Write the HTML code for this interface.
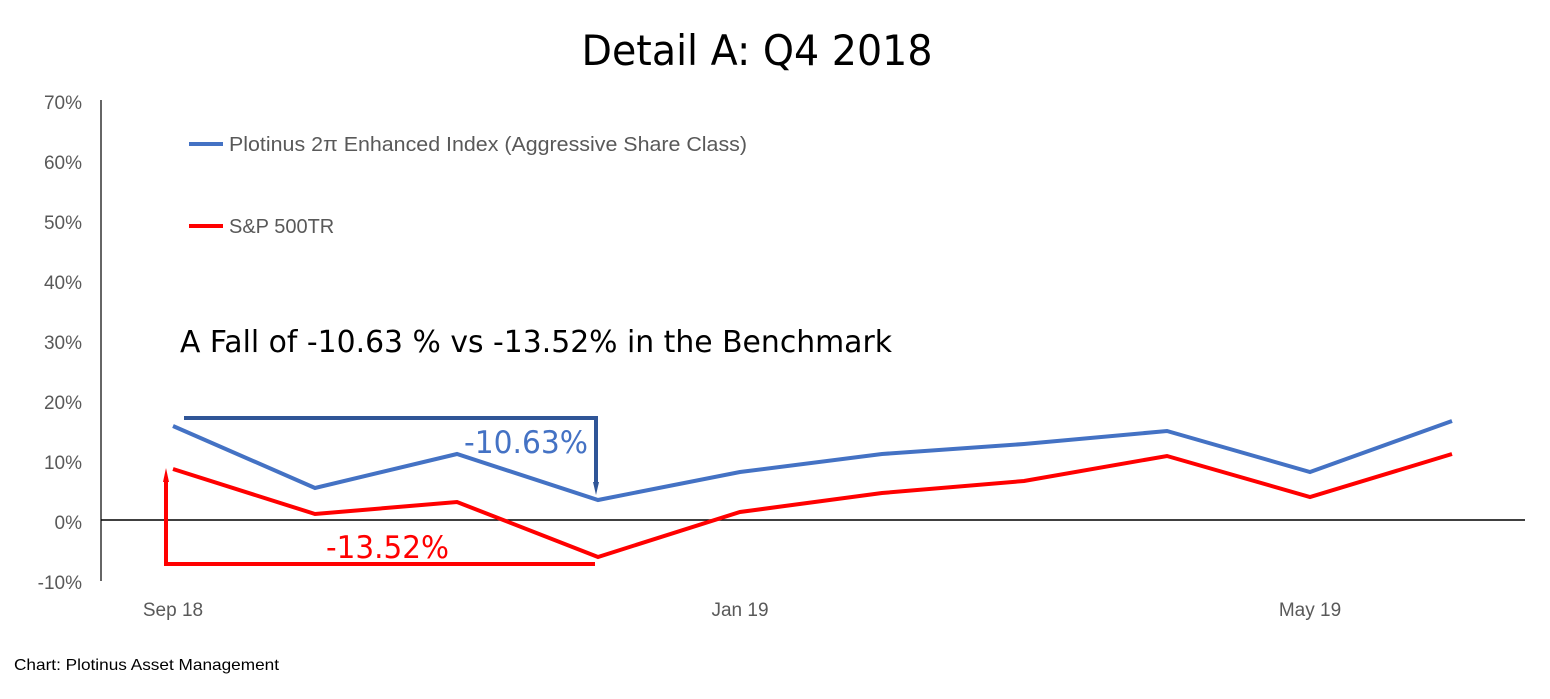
<!DOCTYPE html>
<html><head><style>
body{margin:0;background:#fff;width:1550px;height:694px;overflow:hidden}
svg text{font-family:"Liberation Sans",sans-serif}
</style></head><body>
<svg width="1550" height="694" xmlns="http://www.w3.org/2000/svg">
<text x="757" y="65" text-anchor="middle" font-size="42" fill="#000" textLength="351" lengthAdjust="spacingAndGlyphs" style="font-family:'DejaVu Sans','Liberation Sans',sans-serif">Detail A: Q4 2018</text>
<g font-size="19" fill="#595959" text-anchor="end">
<text x="82" y="109">70%</text><text x="82" y="169">60%</text><text x="82" y="229">50%</text>
<text x="82" y="289">40%</text><text x="82" y="349">30%</text><text x="82" y="409">20%</text>
<text x="82" y="469">10%</text><text x="82" y="529">0%</text><text x="82" y="589">-10%</text>
</g>
<line x1="101" y1="100" x2="101" y2="581" stroke="#333" stroke-width="1.5"/>
<line x1="101" y1="520" x2="1525" y2="520" stroke="#000" stroke-width="1.5"/>
<g font-size="19" fill="#595959" text-anchor="middle">
<text x="173" y="616">Sep 18</text><text x="740" y="616">Jan 19</text><text x="1310" y="616">May 19</text>
</g>
<line x1="189" y1="144" x2="223" y2="144" stroke="#4472c4" stroke-width="4"/>
<text x="229" y="151" font-size="20" fill="#595959" textLength="518" lengthAdjust="spacingAndGlyphs">Plotinus 2π Enhanced Index (Aggressive Share Class)</text>
<line x1="189" y1="226" x2="223" y2="226" stroke="#ff0000" stroke-width="4"/>
<text x="229" y="233" font-size="20" fill="#595959">S&amp;P 500TR</text>
<text x="180" y="352" font-size="30" fill="#000" textLength="712" lengthAdjust="spacingAndGlyphs" style="font-family:'DejaVu Sans','Liberation Sans',sans-serif">A Fall of -10.63 % vs -13.52% in the Benchmark</text>
<polyline fill="none" stroke="#4472c4" stroke-width="4" points="173,426 315,488 457,454 598,500 740,472 882,454 1024,444 1167,431 1310,472 1452,421"/>
<polyline fill="none" stroke="#ff0000" stroke-width="4" points="173,469 315,514 457,502 598,557 740,512 882,493 1024,481 1167,456 1310,497 1452,454"/>
<polyline fill="none" stroke="#2f5597" stroke-width="4" points="184,418 596,418 596,485"/>
<polygon points="596,495 593,482 599,482" fill="#2f5597"/>
<polyline fill="none" stroke="#ff0000" stroke-width="4" points="166,478 166,564 595,564"/>
<polygon points="166,468 163,482 169,482" fill="#ff0000"/>
<text x="464" y="453" font-size="31" fill="#4472c4" textLength="124" lengthAdjust="spacingAndGlyphs" style="font-family:'DejaVu Sans','Liberation Sans',sans-serif">-10.63%</text>
<text x="326" y="558" font-size="31" fill="#ff0000" textLength="123" lengthAdjust="spacingAndGlyphs" style="font-family:'DejaVu Sans','Liberation Sans',sans-serif">-13.52%</text>
<text x="14" y="670" font-size="16" fill="#000" textLength="265" lengthAdjust="spacingAndGlyphs">Chart: Plotinus Asset Management</text>
</svg>
</body></html>
